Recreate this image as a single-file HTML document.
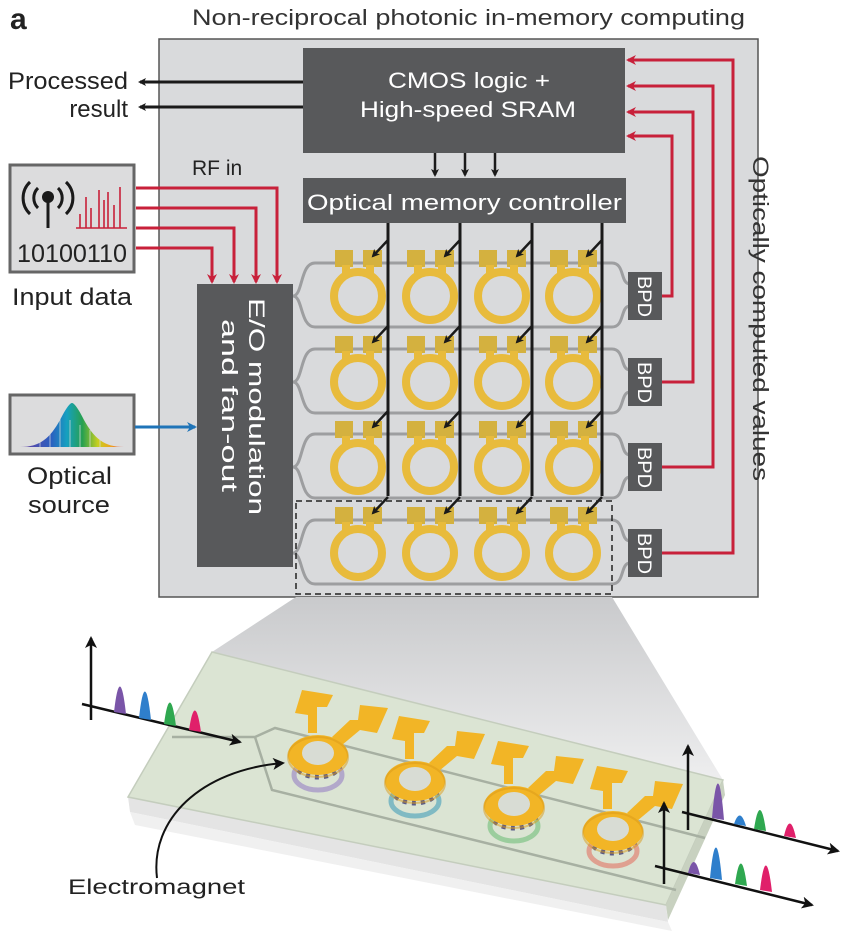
<!DOCTYPE html>
<html><head><meta charset="utf-8"><style>
html,body{margin:0;padding:0;background:#fff}
svg{display:block}
text{font-family:"Liberation Sans",sans-serif}
</style></head><body>
<svg width="849" height="931" viewBox="0 0 849 931" xmlns="http://www.w3.org/2000/svg">
<defs>
<marker id="ab" markerWidth="8" markerHeight="8" refX="6" refY="4" orient="auto" markerUnits="userSpaceOnUse"><path d="M0,0 L8,4 L0,8 L2,4z" fill="#1a1a1a"/></marker>
<marker id="ar" markerWidth="10" markerHeight="10" refX="8" refY="5" orient="auto" markerUnits="userSpaceOnUse"><path d="M0,0 L10,5 L0,10 L3,5z" fill="#c8203a"/></marker>
<marker id="abl" markerWidth="10" markerHeight="10" refX="8" refY="5" orient="auto" markerUnits="userSpaceOnUse"><path d="M0,0 L10,5 L0,10 L3,5z" fill="#1f74b8"/></marker>
<marker id="ak" markerWidth="12" markerHeight="12" refX="10" refY="6" orient="auto" markerUnits="userSpaceOnUse"><path d="M0,0 L12,6 L0,12 L3,6z" fill="#111"/></marker>
<linearGradient id="rb" x1="0" x2="1"><stop offset="0" stop-color="#6a3fa0"/><stop offset=".3" stop-color="#2b5fc0"/><stop offset=".45" stop-color="#16a0c0"/><stop offset=".6" stop-color="#27a050"/><stop offset=".75" stop-color="#c8d020"/><stop offset=".88" stop-color="#f0a020"/><stop offset="1" stop-color="#e04040"/></linearGradient>
<linearGradient id="gp" x1="0" y1="0" x2="0" y2="1"><stop offset="0" stop-color="#c9cacc"/><stop offset="1" stop-color="#eeeeef"/></linearGradient>
<g id="ring">
<rect x="-23" y="-46" width="18" height="17" fill="#d4b13f"/>
<rect x="5" y="-46" width="19" height="17" fill="#d4b13f"/>
<rect x="-16" y="-31" width="8" height="12" fill="#e8bb3c"/>
<rect x="8" y="-31" width="8" height="12" fill="#e8bb3c"/>
<circle cx="0" cy="0" r="24" fill="none" stroke="#e8bb3c" stroke-width="8"/>
</g>
<g id="el">
<polygon points="-16,-65 15,-60 9,-48 -1,-48 -1,-22 -10,-22 -10,-40 -23,-42" fill="#f2b526"/>
<polygon points="42,-50 70,-47 59,-22 42,-25 24,-10 14,-18 32,-35 40,-35" fill="#f2b526"/>
<ellipse cx="0" cy="0" rx="30" ry="20" fill="#f2b526"/>
<ellipse cx="0" cy="2" rx="30" ry="20" fill="none" stroke="#d99a18" stroke-width="2" opacity=".5"/>
<ellipse cx="0" cy="-2" rx="16" ry="12" fill="#d8dcd4"/>
</g>
</defs>

<text x="10" y="29" font-size="30" font-weight="bold" fill="#222">a</text>
<text x="192" y="25" font-size="22" fill="#333" textLength="553" lengthAdjust="spacingAndGlyphs">Non-reciprocal photonic in-memory computing</text>

<rect x="159" y="39" width="599" height="558" fill="#d9dadc" stroke="#555" stroke-width="1.5"/>

<rect x="303" y="48" width="322" height="105" fill="#58595b"/>
<text x="388" y="88" font-size="22" fill="#fff" textLength="162" lengthAdjust="spacingAndGlyphs">CMOS logic +</text>
<text x="360" y="117" font-size="22" fill="#fff" textLength="216" lengthAdjust="spacingAndGlyphs">High-speed SRAM</text>
<rect x="303" y="178" width="323" height="45" fill="#58595b"/>
<text x="307" y="210" font-size="22" fill="#fff" textLength="315" lengthAdjust="spacingAndGlyphs">Optical memory controller</text>
<g stroke="#1a1a1a" stroke-width="2.5" marker-end="url(#ab)">
<line x1="435" y1="153" x2="435" y2="175"/><line x1="465" y1="153" x2="465" y2="175"/><line x1="495" y1="153" x2="495" y2="175"/>
</g>

<g stroke="#1a1a1a" stroke-width="3" marker-end="url(#ab)">
<line x1="303" y1="82" x2="140" y2="82"/><line x1="303" y1="107" x2="140" y2="107"/>
</g>
<text x="8" y="89" font-size="24" fill="#222" textLength="120" lengthAdjust="spacingAndGlyphs">Processed</text>
<text x="128" y="117" font-size="24" fill="#222" text-anchor="end">result</text>

<rect x="10" y="165" width="124" height="107" fill="#dcdcdd" stroke="#666" stroke-width="3"/>
<g fill="none" stroke="#1a1a1a" stroke-width="3">
<line x1="48" y1="200" x2="48" y2="228"/>
<path d="M38,188 A14,14 0 0 0 38,208"/><path d="M58,188 A14,14 0 0 1 58,208"/>
<path d="M30,182 A22,22 0 0 0 30,214"/><path d="M66,182 A22,22 0 0 1 66,214"/>
</g>
<circle cx="48" cy="197" r="6" fill="#1a1a1a"/>
<g stroke="#c8203a" stroke-width="1.6">
<line x1="76" y1="228" x2="127" y2="228"/>
<line x1="80" y1="228" x2="80" y2="214"/><line x1="86" y1="228" x2="86" y2="197"/><line x1="91" y1="228" x2="91" y2="208"/>
<line x1="99" y1="228" x2="99" y2="190"/><line x1="104" y1="228" x2="104" y2="200"/><line x1="108" y1="228" x2="108" y2="192"/>
<line x1="114" y1="228" x2="114" y2="205"/><line x1="120" y1="228" x2="120" y2="187"/>
</g>
<text x="17" y="262" font-size="25" fill="#222" textLength="110" lengthAdjust="spacingAndGlyphs">10100110</text>
<text x="12" y="305" font-size="24" fill="#222" textLength="120" lengthAdjust="spacingAndGlyphs">Input data</text>

<text x="192" y="175" font-size="21" fill="#222">RF in</text>
<g fill="none" stroke="#c8203a" stroke-width="3" marker-end="url(#ar)">
<path d="M136,188 H277 V282"/><path d="M136,208 H256 V282"/><path d="M136,228 H234 V282"/><path d="M136,248 H212 V282"/>
</g>

<rect x="10" y="395" width="124" height="59" fill="#dcdcdd" stroke="#666" stroke-width="3"/>
<path d="M20,447 C40,447 50,438 60,420 C66,408 70,403 72,403 C74,403 78,408 84,420 C94,438 104,447 124,447 Z" fill="url(#rb)"/>
<g stroke="#dcdcdd" stroke-width="1" opacity=".7">
<line x1="40" y1="430" x2="40" y2="447"/><line x1="50" y1="420" x2="50" y2="447"/><line x1="60" y1="415" x2="60" y2="447"/><line x1="70" y1="420" x2="70" y2="447"/><line x1="80" y1="425" x2="80" y2="447"/><line x1="90" y1="430" x2="90" y2="447"/><line x1="100" y1="435" x2="100" y2="447"/>
</g>
<line x1="135" y1="427" x2="195" y2="427" stroke="#1f74b8" stroke-width="3" marker-end="url(#abl)"/>
<text x="27" y="484" font-size="24" fill="#222" textLength="85" lengthAdjust="spacingAndGlyphs">Optical</text>
<text x="28" y="513" font-size="24" fill="#222" textLength="82" lengthAdjust="spacingAndGlyphs">source</text>

<rect x="197" y="284" width="96" height="283" fill="#58595b"/>
<text transform="translate(249,298) rotate(90)" font-size="22" fill="#fff" textLength="217" lengthAdjust="spacingAndGlyphs">E/O modulation</text>
<text transform="translate(222,319) rotate(90)" font-size="22" fill="#fff" textLength="173" lengthAdjust="spacingAndGlyphs">and fan-out</text>

<g fill="none" stroke="#9d9ea0" stroke-width="3">
<path d="M293,296 C303,296 300,263 315,263 H612 C625,263 620,284 630,284"/>
<path d="M293,296 C303,296 300,327 315,327 H612 C625,327 620,306 630,306"/>
<path d="M293,382 C303,382 300,349 315,349 H612 C625,349 620,370 630,370"/>
<path d="M293,382 C303,382 300,413 315,413 H612 C625,413 620,392 630,392"/>
<path d="M293,467 C303,467 300,434 315,434 H612 C625,434 620,455 630,455"/>
<path d="M293,467 C303,467 300,498 315,498 H612 C625,498 620,477 630,477"/>
<path d="M293,553 C303,553 300,520 315,520 H612 C625,520 620,541 630,541"/>
<path d="M293,553 C303,553 300,584 315,584 H612 C625,584 620,563 630,563"/>
</g>

<use href="#ring" x="358" y="296"/><use href="#ring" x="430" y="296"/><use href="#ring" x="502" y="296"/><use href="#ring" x="573" y="296"/>
<use href="#ring" x="358" y="382"/><use href="#ring" x="430" y="382"/><use href="#ring" x="502" y="382"/><use href="#ring" x="573" y="382"/>
<use href="#ring" x="358" y="467"/><use href="#ring" x="430" y="467"/><use href="#ring" x="502" y="467"/><use href="#ring" x="573" y="467"/>
<use href="#ring" x="358" y="553"/><use href="#ring" x="430" y="553"/><use href="#ring" x="502" y="553"/><use href="#ring" x="573" y="553"/>

<g stroke="#1a1a1a" stroke-width="3">
<line x1="388" y1="223" x2="388" y2="496"/><line x1="460" y1="223" x2="460" y2="496"/><line x1="532" y1="223" x2="532" y2="496"/><line x1="602" y1="223" x2="602" y2="496"/>
</g>
<g stroke="#1a1a1a" stroke-width="2.5" marker-end="url(#ab)">
<line x1="388" y1="240" x2="373" y2="256"/><line x1="460" y1="240" x2="445" y2="256"/><line x1="532" y1="240" x2="517" y2="256"/><line x1="602" y1="240" x2="587" y2="256"/>
<line x1="388" y1="326" x2="373" y2="342"/><line x1="460" y1="326" x2="445" y2="342"/><line x1="532" y1="326" x2="517" y2="342"/><line x1="602" y1="326" x2="587" y2="342"/>
<line x1="388" y1="411" x2="373" y2="427"/><line x1="460" y1="411" x2="445" y2="427"/><line x1="532" y1="411" x2="517" y2="427"/><line x1="602" y1="411" x2="587" y2="427"/>
<line x1="388" y1="497" x2="373" y2="513"/><line x1="460" y1="497" x2="445" y2="513"/><line x1="532" y1="497" x2="517" y2="513"/><line x1="602" y1="497" x2="587" y2="513"/>
</g>
<rect x="296" y="501" width="316" height="93" fill="none" stroke="#222" stroke-width="1.5" stroke-dasharray="6,4"/>

<g fill="#58595b">
<rect x="628" y="272" width="34" height="48"/><rect x="628" y="358" width="34" height="48"/><rect x="628" y="443" width="34" height="48"/><rect x="628" y="529" width="34" height="48"/>
</g>
<g font-size="19" fill="#fff">
<text transform="translate(638,276) rotate(90)" textLength="41" lengthAdjust="spacingAndGlyphs">BPD</text>
<text transform="translate(638,362) rotate(90)" textLength="41" lengthAdjust="spacingAndGlyphs">BPD</text>
<text transform="translate(638,447) rotate(90)" textLength="41" lengthAdjust="spacingAndGlyphs">BPD</text>
<text transform="translate(638,533) rotate(90)" textLength="41" lengthAdjust="spacingAndGlyphs">BPD</text>
</g>
<g fill="none" stroke="#c8203a" stroke-width="3" marker-end="url(#ar)">
<path d="M662,296 H672 V136 H628"/>
<path d="M662,382 H693 V112 H628"/>
<path d="M662,467 H713 V86 H628"/>
<path d="M662,553 H733 V60 H628"/>
</g>
<text transform="translate(753,156) rotate(90)" font-size="22" fill="#333" textLength="325" lengthAdjust="spacingAndGlyphs">Optically computed values</text>

<polygon points="296,597 612,597 723,780 212,652" fill="url(#gp)"/>
<polygon points="128,797 666,905 668,922 130,812" fill="#e4e4e4"/>
<polygon points="130,812 668,922 672,931 135,825" fill="#f0f0f0"/>
<polygon points="212,652 723,780 666,905 128,797" fill="#dbe4d3" stroke="#c4cdbd" stroke-width="1.5"/>
<polygon points="666,905 723,780 725,795 668,920" fill="#c8d1c0"/>
<g fill="none" stroke="#a7b0a2" stroke-width="2.5">
<path d="M172,737 H255 L275,728 L705,838"/>
<path d="M255,737 L272,790 L676,890"/>
</g>
<g fill="none" stroke-width="5" opacity=".8">
<ellipse cx="318" cy="775" rx="24" ry="15" stroke="#a898c8"/>
<ellipse cx="415" cy="801" rx="24" ry="15" stroke="#6ab0c0"/>
<ellipse cx="514" cy="826" rx="24" ry="15" stroke="#8cc890"/>
<ellipse cx="613" cy="851" rx="24" ry="15" stroke="#e09080"/>
</g>
<g fill="none" stroke="#5a5a88" stroke-width="5" stroke-dasharray="4,5">
<ellipse cx="318" cy="764" rx="22" ry="13"/><ellipse cx="415" cy="790" rx="22" ry="13"/><ellipse cx="514" cy="815" rx="22" ry="13"/><ellipse cx="613" cy="840" rx="22" ry="13"/>
</g>
<use href="#el" x="318" y="755"/><use href="#el" x="415" y="781"/><use href="#el" x="514" y="806"/><use href="#el" x="613" y="831"/>

<g stroke="#111" stroke-width="2.5" fill="none">
<line x1="91" y1="720" x2="91" y2="638" marker-end="url(#ak)"/>
<line x1="82" y1="704" x2="240" y2="742" marker-end="url(#ak)"/>
<line x1="688" y1="830" x2="688" y2="746" marker-end="url(#ak)"/>
<line x1="682" y1="812" x2="838" y2="851" marker-end="url(#ak)"/>
<line x1="664" y1="884" x2="664" y2="803" marker-end="url(#ak)"/>
<line x1="655" y1="866" x2="812" y2="905" marker-end="url(#ak)"/>
</g>
<path d="M114,712 Q120,660 126,714Z" fill="#7a55a8"/>
<path d="M139,718 Q145,664 151,720Z" fill="#2f7fcc"/>
<path d="M164,724 Q170,680 176,726Z" fill="#2fa850"/>
<path d="M189,730 Q195,690 201,732Z" fill="#e0206a"/>
<path d="M712,818 Q718,748 724,820Z" fill="#7a55a8"/>
<path d="M734,824 Q740,806 746,826Z" fill="#2f7fcc"/>
<path d="M754,829 Q760,790 766,831Z" fill="#2fa850"/>
<path d="M784,836 Q790,810 796,838Z" fill="#e0206a"/>
<path d="M688,873 Q694,850 700,875Z" fill="#7a55a8"/>
<path d="M710,878 Q716,816 722,880Z" fill="#2f7fcc"/>
<path d="M735,884 Q741,842 747,886Z" fill="#2fa850"/>
<path d="M760,890 Q766,840 772,892Z" fill="#e0206a"/>

<path d="M157,878 C150,820 200,770 283,763" fill="none" stroke="#111" stroke-width="2" marker-end="url(#ak)"/>
<text x="68" y="894" font-size="21" fill="#222" textLength="177" lengthAdjust="spacingAndGlyphs">Electromagnet</text>
</svg>
</body></html>
